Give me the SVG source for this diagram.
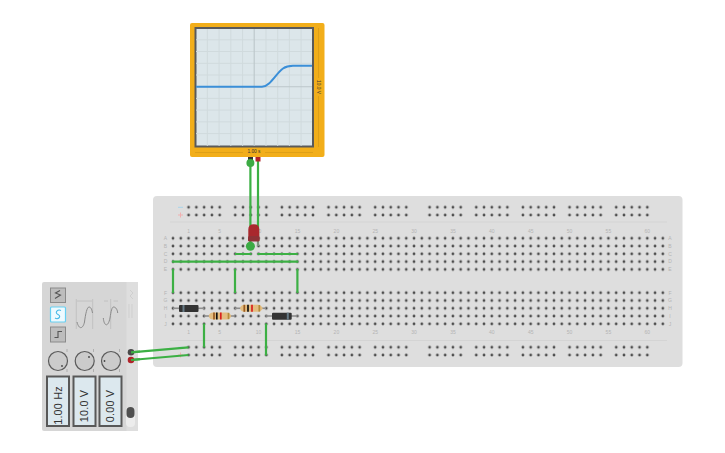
<svg xmlns="http://www.w3.org/2000/svg" width="725" height="453" viewBox="0 0 725 453">
<style>
text{font-family:"Liberation Sans",Arial,sans-serif}
.lbl{font-size:5px;fill:#b4b4b4;text-anchor:middle}
.wire{stroke:#3cb044;stroke-width:2.200;fill:none}
.lead{stroke:#8f8f8f;stroke-width:1.600;fill:none}
.grid{stroke:#d0dadd;stroke-width:1}
.btn{fill:#bdbdbd;stroke:#8a8a8a;stroke-width:1}
.ico{fill:none;stroke:#555;stroke-width:1.100}
.knob{fill:#cbcbcb;stroke:#5a5a5a;stroke-width:1.200}
.disp{fill:#dce8ee;stroke:#585858;stroke-width:2}
.dtxt{font-size:10.800px;fill:#333;text-anchor:middle;letter-spacing:.2px}
.wave{fill:none;stroke:#8a8a8a;stroke-width:1}
.guide{stroke:#bcbcbc;stroke-width:.8;fill:none}
</style>
<defs>
<pattern id="dots" x="169.11" y="234.41" width="7.775" height="7.78" patternUnits="userSpaceOnUse">
<circle cx="3.89" cy="3.89" r="1.4" fill="#4c4c4c"/>
</pattern>
<pattern id="rdots" x="184.7" y="203.4" width="7.775" height="7.78" patternUnits="userSpaceOnUse">
<circle cx="3.89" cy="3.89" r="1.4" fill="#4c4c4c"/>
</pattern>
<pattern id="rdots2" x="184.7" y="343.4" width="7.775" height="7.78" patternUnits="userSpaceOnUse">
<circle cx="3.89" cy="3.89" r="1.4" fill="#4c4c4c"/>
</pattern>
</defs>
<rect width="725" height="453" fill="#fff"/>

<g id="breadboard">
<rect x="153" y="196" width="529.500" height="171" rx="4" fill="#dedede"/>
<path d="M170 222H667M170 340.500H667" stroke="#d2d2d2" stroke-width=".8"/>
<rect x="169.110" y="234.410" width="497.600" height="38.900" fill="url(#dots)"/>
<rect x="169.110" y="288.900" width="497.600" height="38.900" fill="url(#dots)"/>
<g fill="url(#rdots)">
<rect x="184.700" y="203.400" width="38.880" height="15.560"/>
<rect x="231.350" y="203.400" width="38.880" height="15.560"/>
<rect x="278" y="203.400" width="38.880" height="15.560"/>
<rect x="324.650" y="203.400" width="38.880" height="15.560"/>
<rect x="371.300" y="203.400" width="38.880" height="15.560"/>
<rect x="425.725" y="203.400" width="38.880" height="15.560"/>
<rect x="472.375" y="203.400" width="38.880" height="15.560"/>
<rect x="519.025" y="203.400" width="38.880" height="15.560"/>
<rect x="565.675" y="203.400" width="38.880" height="15.560"/>
<rect x="612.325" y="203.400" width="38.880" height="15.560"/>
</g>
<g fill="url(#rdots2)">
<rect x="184.700" y="343.400" width="38.880" height="15.560"/>
<rect x="231.350" y="343.400" width="38.880" height="15.560"/>
<rect x="278" y="343.400" width="38.880" height="15.560"/>
<rect x="324.650" y="343.400" width="38.880" height="15.560"/>
<rect x="371.300" y="343.400" width="38.880" height="15.560"/>
<rect x="425.725" y="343.400" width="38.880" height="15.560"/>
<rect x="472.375" y="343.400" width="38.880" height="15.560"/>
<rect x="519.025" y="343.400" width="38.880" height="15.560"/>
<rect x="565.675" y="343.400" width="38.880" height="15.560"/>
<rect x="612.325" y="343.400" width="38.880" height="15.560"/>
</g>
<path d="M178 207.300H183M178 347.300H183" stroke="#a8d4ea" stroke-width="1"/>
<path d="M178 215H183M180.500 212.500V217.500M178 355H183M180.500 352.500V357.500" stroke="#f0b0b0" stroke-width="1"/>
<g>
<text class="lbl" x="188.600" y="232.500">1</text><text class="lbl" x="219.700" y="232.500">5</text><text class="lbl" x="258.600" y="232.500">10</text><text class="lbl" x="297.500" y="232.500">15</text><text class="lbl" x="336.400" y="232.500">20</text><text class="lbl" x="375.200" y="232.500">25</text><text class="lbl" x="414.100" y="232.500">30</text><text class="lbl" x="453" y="232.500">35</text><text class="lbl" x="491.800" y="232.500">40</text><text class="lbl" x="530.700" y="232.500">45</text><text class="lbl" x="569.600" y="232.500">50</text><text class="lbl" x="608.400" y="232.500">55</text><text class="lbl" x="647.300" y="232.500">60</text>
<text class="lbl" x="188.600" y="334">1</text><text class="lbl" x="219.700" y="334">5</text><text class="lbl" x="258.600" y="334">10</text><text class="lbl" x="297.500" y="334">15</text><text class="lbl" x="336.400" y="334">20</text><text class="lbl" x="375.200" y="334">25</text><text class="lbl" x="414.100" y="334">30</text><text class="lbl" x="453" y="334">35</text><text class="lbl" x="491.800" y="334">40</text><text class="lbl" x="530.700" y="334">45</text><text class="lbl" x="569.600" y="334">50</text><text class="lbl" x="608.400" y="334">55</text><text class="lbl" x="647.300" y="334">60</text>
<text class="lbl" x="165.500" y="240">A</text><text class="lbl" x="165.500" y="247.800">B</text><text class="lbl" x="165.500" y="255.600">C</text><text class="lbl" x="165.500" y="263.400">D</text><text class="lbl" x="165.500" y="271.200">E</text><text class="lbl" x="165.500" y="294.500">F</text><text class="lbl" x="165.500" y="302.200">G</text><text class="lbl" x="165.500" y="310">H</text><text class="lbl" x="165.500" y="317.800">I</text><text class="lbl" x="165.500" y="325.500">J</text>
<text class="lbl" x="670" y="240">A</text><text class="lbl" x="670" y="247.800">B</text><text class="lbl" x="670" y="255.600">C</text><text class="lbl" x="670" y="263.400">D</text><text class="lbl" x="670" y="271.200">E</text><text class="lbl" x="670" y="294.500">F</text><text class="lbl" x="670" y="302.200">G</text><text class="lbl" x="670" y="310">H</text><text class="lbl" x="670" y="317.800">I</text><text class="lbl" x="670" y="325.500">J</text>
</g>
</g>

<g id="oscilloscope">
<rect x="190" y="23" width="134.500" height="134" rx="2" fill="#f2ae1a"/>
<path d="M195 152.500H313M318.500 28V147" stroke="#dd9f17" stroke-width="1"/>
<rect x="195.500" y="28" width="117.500" height="118.500" fill="#dce6ea" stroke="#5a5a5a" stroke-width="2"/>
<path class="grid" d="M207.300 29V146M219.100 29V146M230.800 29V146M242.600 29V146M266 29V146M277.700 29V146M289.400 29V146M301.100 29V146M196 39.800H312M196 51.500H312M196 63.300H312M196 75H312M196 98.400H312M196 110.100H312M196 121.900H312M196 133.600H312"/>
<path d="M254.200 29V146M196 86.700H312" stroke="#bcc6ca" stroke-width="1.100"/>
<path d="M196 86.700H262Q265.500 86.700 269 83.500C274 79 278 72 283 68.500Q287 65.800 293 65.800H312" fill="none" stroke="#3b8fd8" stroke-width="2"/>
<rect x="243" y="149" width="22" height="6" fill="#f2ae1a"/>
<text x="254" y="153.300" font-size="4.800" fill="#333" text-anchor="middle">1.00 s</text>
<rect x="315.500" y="78" width="6" height="18" fill="#f2ae1a"/>
<text transform="translate(317,87) rotate(90)" font-size="4.800" fill="#333" text-anchor="middle">10.0 V</text>
</g>

<g id="function-generator">
<rect x="42" y="282" width="96" height="149" rx="2" fill="#d6d6d6"/>
<rect x="126.500" y="282" width="11.500" height="149" fill="#dedede"/>
<g id="wave-buttons">
<rect class="btn" x="50.500" y="288" width="15" height="14.500"/>
<path class="ico" d="M55 298.500L60.500 295L55.500 293L60 290.500"/>
<rect x="50.500" y="307" width="15" height="15" rx="1" fill="#eefaff" stroke="#66cff2" stroke-width="1.200"/>
<path d="M55 318C58 320 62 316.500 58 314.500C54 312.500 58 309 61 310.500" fill="none" stroke="#45b8e6" stroke-width="1.100"/>
<rect class="btn" x="50.500" y="327" width="15" height="15"/>
<path class="ico" d="M54.500 337.500H58V331.500H62"/>
</g>
<path class="guide" d="M76.300 299V329M92.700 299V329M77 301H92M110.700 299V329M104 301H108M113.500 301H118"/>
<path class="wave" d="M77 322C79 330 83 329 84.500 322C85.500 314 87 307 89 307C91 307 92 310 92.500 313"/>
<path class="wave" d="M103.300 318C104 326 108 328 110 318C111 311 112 307 113.500 307C116 307 117.500 310 117.700 313"/>
<path d="M130 290l3 3-3 3 3 3M129 304v14M132 304v14" fill="none" stroke="#cfcfcf" stroke-width="1"/>
<circle class="knob" cx="58" cy="361" r="9.500"/><circle cx="62" cy="366" r=".9" fill="#444"/>
<circle class="knob" cx="84.700" cy="361" r="9.500"/><circle cx="89" cy="357" r=".9" fill="#444"/>
<circle class="knob" cx="111" cy="361" r="9.500"/><circle cx="104.500" cy="361" r=".9" fill="#444"/>
<path d="M67 349v3M67 369v3M93.500 349v3M93.500 369v3M119.500 349v3M119.500 369v3" stroke="#aaa" stroke-width=".9"/>
<rect class="disp" x="47" y="376.500" width="22" height="49.500"/>
<rect class="disp" x="73.500" y="376.500" width="22" height="49.500"/>
<rect class="disp" x="99.500" y="376.500" width="22" height="49.500"/>
<text class="dtxt" transform="translate(61.700,405.500) rotate(-90)">1.00 Hz</text>
<text class="dtxt" transform="translate(88.200,406) rotate(-90)">10.0 V</text>
<text class="dtxt" transform="translate(114.200,406) rotate(-90)">0.00 V</text>
<rect x="126" y="407" width="9" height="20" rx="4" fill="#ececec"/>
<rect x="126.500" y="407" width="8" height="11" rx="4" fill="#505050"/>
</g>

<g id="connectors">
<path class="wire" d="M250.400 160V247M258 161V246M235 254H251.500M257.500 254H297.800M172 261.700H298.300M173 269V293M235 269V293M297.400 269V293M204 323.500V347.500M266 323.500V355.500M131 352.300L188.500 347.300M131 360L188.500 355"/>
</g>

<g id="resistor-1">
<path class="lead" d="M204 316H235.500"/>
<path d="M208.700 316Q209.500 312.500 213 312.500H226.500Q230 312.500 231.300 316Q230 319.500 226.500 319.500H213Q209.500 319.500 208.700 316Z" fill="#e3bd80"/>
<path d="M214 312.500V319.500" stroke="#9a5a20" stroke-width="1.700"/>
<path d="M216.800 312.500V319.500" stroke="#111" stroke-width="1.700"/>
<path d="M220.800 312.500V319.500" stroke="#d91f1f" stroke-width="1.700"/>
<path d="M228.500 312.800V319.200" stroke="#b58a3a" stroke-width="1.700"/>
</g>
<g id="resistor-2">
<path class="lead" d="M235 308.300H266"/>
<path d="M240 308.300Q241 304.800 244.300 304.800H257.800Q261.300 304.800 262.500 308.300Q261.300 311.800 257.800 311.800H244.300Q241 311.800 240 308.300Z" fill="#e3bd80"/>
<path d="M244.300 304.800V311.800" stroke="#9a5a20" stroke-width="1.700"/>
<path d="M248 304.800V311.800" stroke="#111" stroke-width="1.700"/>
<path d="M252 304.800V311.800" stroke="#d91f1f" stroke-width="1.700"/>
<path d="M259.300 305V311.600" stroke="#b58a3a" stroke-width="1.700"/>
</g>
<g id="diode-1">
<path class="lead" d="M173 308.300H204.500"/>
<rect x="179" y="305" width="19.500" height="7" rx="1" fill="#333"/>
<rect x="182.500" y="305" width="2" height="7" fill="#667a86"/>
</g>
<g id="diode-2">
<path class="lead" d="M266 316H297.500"/>
<rect x="272" y="312.700" width="19.700" height="7" rx="1" fill="#333"/>
<rect x="286.800" y="312.700" width="2" height="7" fill="#667a86"/>
</g>
<g id="led">
<path class="lead" d="M258 238V246"/>
<path d="M248.300 241V229.500Q248.300 224.300 253.800 224.300Q259.300 224.300 259.300 229.500V241Z" fill="#a9282d"/>
<rect x="248" y="236" width="11.500" height="5.500" rx="1.500" fill="#8e3236"/>
</g>
<g id="probes">
<rect x="248" y="157" width="5" height="4" fill="#333"/>
<rect x="255.500" y="157" width="5" height="4.500" fill="#b0242a"/>
<circle cx="250.400" cy="163" r="4" fill="#3cab44"/>
<circle cx="250.400" cy="246.300" r="4.500" fill="#3cab44"/>
<circle cx="131" cy="352.300" r="3.300" fill="#4a4a4a"/>
<circle cx="131" cy="360" r="3.300" fill="#b0242a"/>
<path class="wire" d="M131 352.300L140 351.500M131 360L140 359.200"/>
</g>
</svg>
